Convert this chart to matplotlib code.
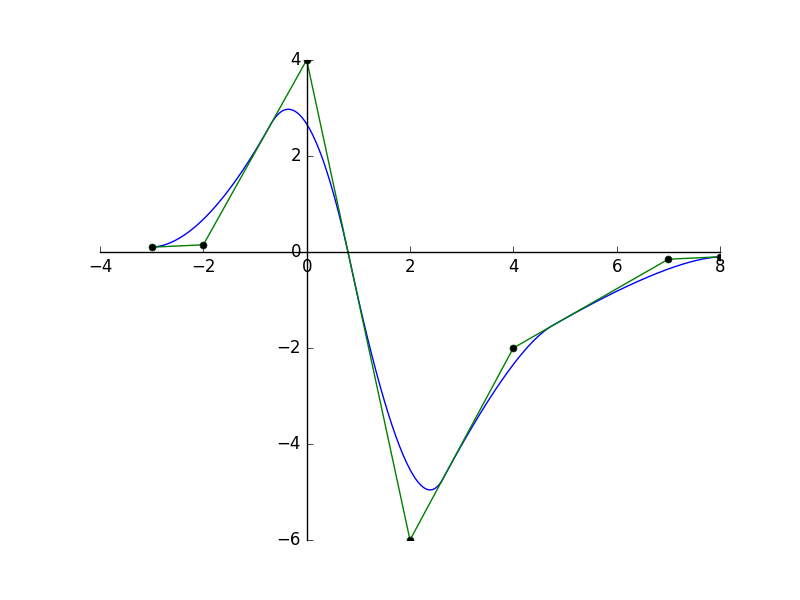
import numpy as np
import matplotlib
matplotlib.use('Agg')
import matplotlib.pyplot as plt

plt.style.use('classic')

# control polygon
cx = [-3, -2, 0, 2, 4, 7, 8]
cy = [0.1, 0.15, 4, -6, -2, -0.15, -0.1]
# quadratic B-spline knot vector (clamped)
degree = 2
knots = [0, 0, 0, 0.116, 0.179, 0.265, 0.449, 1, 1, 1]


def deboor(px, py, k, kv, n=600):
    pts = np.column_stack([px, py]).astype(float)
    m = len(pts)
    kv = np.asarray(kv, float)
    ts = np.linspace(kv[k], kv[m], n)
    out = []
    for t in ts:
        i = np.searchsorted(kv, t, side='right') - 1
        i = min(max(i, k), m - 1)
        d = [pts[j + i - k].copy() for j in range(k + 1)]
        for r in range(1, k + 1):
            for j in range(k, r - 1, -1):
                den = kv[j + 1 + i - r] - kv[j + i - k]
                a = 0 if den == 0 else (t - kv[j + i - k]) / den
                d[j] = (1 - a) * d[j - 1] + a * d[j]
        out.append(d[k])
    out = np.array(out)
    return out[:, 0], out[:, 1]


fig = plt.figure(figsize=(8, 6), dpi=100)
ax = fig.add_subplot(111)

sx, sy = deboor(cx, cy, degree, knots)
ax.plot(sx, sy, 'b-')
ax.plot(cx, cy, 'g-')
ax.plot(cx, cy, 'ko', markersize=5, markeredgecolor='#003300')

ax.set_xlim(-4, 8)
ax.set_ylim(-6, 4)
ax.spines['left'].set_position(('data', 0))
ax.spines['bottom'].set_position(('data', 0))
ax.spines['right'].set_visible(False)
ax.spines['top'].set_visible(False)
ax.xaxis.set_ticks_position('bottom')
ax.yaxis.set_ticks_position('left')

fig.savefig('out.png', dpi=100)
